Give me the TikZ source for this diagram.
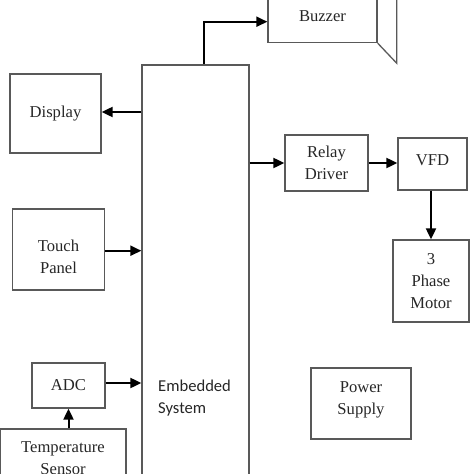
\documentclass[tikz,border=0pt]{standalone}
\usepackage{fontspec}
\setmainfont{Liberation Serif}
\newfontfamily\calib{Carlito}
\usetikzlibrary{arrows.meta,calc}
\begin{document}
\begin{tikzpicture}[x=1pt,y=-1pt,
  box/.style={draw=black!65,line width=1.3pt,rectangle,inner sep=0pt,align=center,text=black!85},
  arr/.style={draw=black,line width=2pt,-{Triangle[length=11pt,width=10pt]}},
  every node/.append style={font=\fontsize{16.6}{22}\selectfont}]
\useasboundingbox (0,0) rectangle (474,474);
\clip (0,0) rectangle (474,474);
% embedded system
\node[box,minimum width=107pt,minimum height=450pt] (emb) at (195.5,290) {};
\node[inner sep=0pt,anchor=west,align=left,text=black!85,font=\calib\fontsize{16.6}{22}\selectfont] (embtxt) at (158,398) {Embedded\\System};
% other blocks
\node[box,minimum width=109pt,minimum height=53pt] (buzz) at (322.5,16) {Buzzer};
\node[box,minimum width=91pt,minimum height=79pt] (disp) at (55.5,113.5) {Display};
\node[box,minimum width=83pt,minimum height=56pt] (relay) at (326.5,163) {Relay\\Driver};
\node[box,minimum width=69pt,minimum height=52pt] (vfd) at (432.5,164) {\raisebox{7pt}{VFD}};
\node[box,minimum width=76pt,minimum height=82pt] (motor) at (431,281) {3\\Phase\\Motor};
\node[box,minimum width=92pt,minimum height=81pt,
  label={[yshift=-7pt,align=center,text=black!85,font=\fontsize{16.6}{22}\selectfont]center:Touch\\Panel}] (touch) at (58.5,249.5) {};
\node[box,minimum width=73pt,minimum height=45pt] (adc) at (68.5,385.5) {ADC};
\node[box,minimum width=126pt,minimum height=90pt,
  label={[yshift=16pt,align=center,text=black!85,font=\fontsize{16.6}{22}\selectfont]center:Temperature\\Sensor}] (sens) at (63,474) {};
\node[box,minimum width=100pt,minimum height=71pt,
  label={[yshift=4pt,align=center,text=black!85,font=\fontsize{16.6}{22}\selectfont]center:Power\\Supply}] (power) at (361,403.5) {};
% buzzer flare
\draw[draw=black!65,line width=1.3pt] (buzz.south east) -- ++(19,20) -- ++(0,-93) -- (buzz.north east);
% connectors
\coordinate (bz) at ($(buzz.west)+(0,5.7)$);
\draw[arr] (emb.north -| 204,0) |- (bz);
\draw[arr] (emb.west |- 0,112) -- (disp.east |- 0,112);
\draw[arr] (emb.east |- relay.west) -- (relay.west);
\draw[arr] (relay.east) -- (relay.east -| vfd.west);
\draw[arr] (vfd.south -| motor.north) -- (motor.north);
\draw[arr] (touch.east |- 0,250.7) -- (emb.west |- 0,250.7);
\draw[arr] (adc.east |- 0,383) -- (emb.west |- 0,383);
\draw[arr] (sens.north -| adc.south) -- (adc.south);
\end{tikzpicture}
\end{document}
